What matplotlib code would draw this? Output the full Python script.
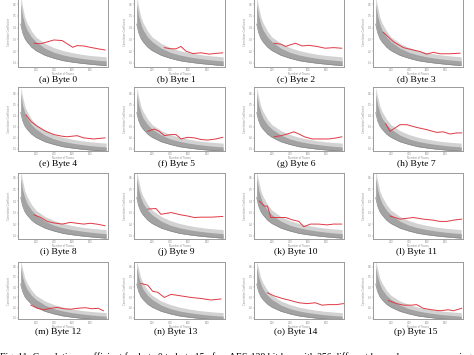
import matplotlib
matplotlib.use("Agg")
import matplotlib.pyplot as plt

# ---------------- data ----------------
captions = ["(a) Byte 0", "(b) Byte 1", "(c) Byte 2", "(d) Byte 3",
            "(e) Byte 4", "(f) Byte 5", "(g) Byte 6", "(h) Byte 7",
            "(i) Byte 8", "(j) Byte 9", "(k) Byte 10", "(l) Byte 11",
            "(m) Byte 12", "(n) Byte 13", "(o) Byte 14", "(p) Byte 15"]

x_ticks = [200, 400, 600, 800]
x_tick_labels = ["200", "400", "600", "800"]
y_ticks = [0.1, 0.2, 0.3, 0.4, 0.5, 0.6]
y_tick_labels = ["0.1", "0.2", "0.3", "0.4", "0.5", "0.6"]

# envelope of the 255 wrong-key (gray) curves
gray_x = [30, 50, 75, 100, 150, 200, 300, 400, 500, 600, 700, 800, 900, 980]
gray_lower = [0.43, 0.36, 0.31, 0.28, 0.235, 0.205, 0.165, 0.14, 0.12, 0.108, 0.098, 0.09, 0.083, 0.078]
gray_core_upper = [0.60, 0.50, 0.43, 0.38, 0.32, 0.28, 0.225, 0.19, 0.168, 0.152, 0.14, 0.13, 0.122, 0.117]
gray_upper = [0.66, 0.58, 0.49, 0.44, 0.37, 0.32, 0.265, 0.23, 0.205, 0.188, 0.174, 0.164, 0.157, 0.152]

# correct-key (red) curves
byte0_x = [179, 253, 308, 399, 491, 546, 608, 656, 729, 802, 875, 967]
byte0_y = [0.267, 0.263, 0.275, 0.295, 0.29, 0.263, 0.233, 0.247, 0.244, 0.233, 0.222, 0.21]
byte1_x = [333, 407, 462, 516, 571, 645, 736, 828, 883, 975]
byte1_y = [0.23, 0.22, 0.22, 0.24, 0.20, 0.18, 0.186, 0.175, 0.18, 0.186]
byte2_x = [223, 297, 352, 407, 462, 535, 608, 700, 791, 883, 975]
byte2_y = [0.267, 0.26, 0.24, 0.255, 0.267, 0.244, 0.25, 0.24, 0.225, 0.23, 0.225]
byte3_x = [115, 226, 337, 448, 522, 596, 670, 744, 855, 967]
byte3_y = [0.36, 0.28, 0.23, 0.21, 0.197, 0.175, 0.19, 0.178, 0.178, 0.183]
byte4_x = [88, 143, 216, 308, 399, 491, 546, 656, 729, 839, 967]
byte4_y = [0.41, 0.35, 0.305, 0.26, 0.23, 0.215, 0.21, 0.22, 0.20, 0.19, 0.20]
byte5_x = [150, 223, 278, 333, 407, 462, 516, 590, 663, 736, 810, 901, 975]
byte5_y = [0.26, 0.28, 0.26, 0.22, 0.23, 0.23, 0.19, 0.205, 0.20, 0.185, 0.18, 0.19, 0.205]
byte6_x = [223, 300, 370, 443, 500, 560, 645, 740, 830, 920, 975]
byte6_y = [0.21, 0.22, 0.235, 0.255, 0.235, 0.21, 0.19, 0.19, 0.19, 0.20, 0.21]
byte7_x = [140, 189, 300, 374, 485, 596, 707, 781, 855, 930, 985]
byte7_y = [0.33, 0.26, 0.32, 0.32, 0.295, 0.275, 0.25, 0.255, 0.235, 0.245, 0.245]
byte8_x = [179, 253, 326, 399, 491, 583, 656, 729, 802, 875, 967]
byte8_y = [0.28, 0.257, 0.223, 0.21, 0.20, 0.215, 0.207, 0.20, 0.207, 0.20, 0.186]
byte9_x = [150, 241, 296, 407, 516, 590, 663, 736, 846, 975]
byte9_y = [0.33, 0.335, 0.285, 0.30, 0.28, 0.27, 0.257, 0.26, 0.26, 0.266]
byte10_x = [58, 114, 150, 187, 260, 352, 425, 498, 553, 626, 718, 810, 883, 975]
byte10_y = [0.40, 0.356, 0.356, 0.257, 0.257, 0.257, 0.237, 0.223, 0.177, 0.20, 0.20, 0.193, 0.20, 0.20]
byte11_x = [189, 300, 448, 559, 670, 744, 819, 893, 985]
byte11_y = [0.27, 0.243, 0.257, 0.243, 0.234, 0.223, 0.223, 0.234, 0.243]
byte12_x = [143, 216, 289, 363, 436, 509, 583, 656, 747, 820, 894, 949]
byte12_y = [0.225, 0.194, 0.18, 0.194, 0.203, 0.19, 0.185, 0.194, 0.20, 0.19, 0.194, 0.17]
byte13_x = [76, 150, 205, 260, 333, 407, 516, 626, 736, 846, 956]
byte13_y = [0.436, 0.42, 0.36, 0.35, 0.30, 0.33, 0.315, 0.30, 0.29, 0.275, 0.285]
byte14_x = [150, 223, 315, 407, 498, 590, 681, 755, 828, 919, 993]
byte14_y = [0.345, 0.315, 0.29, 0.27, 0.248, 0.24, 0.248, 0.225, 0.23, 0.23, 0.24]
byte15_x = [170, 263, 337, 430, 485, 559, 652, 744, 837, 893, 985]
byte15_y = [0.27, 0.24, 0.225, 0.225, 0.23, 0.194, 0.18, 0.17, 0.18, 0.17, 0.194]

red_xs = [byte0_x, byte1_x, byte2_x, byte3_x, byte4_x, byte5_x, byte6_x, byte7_x,
          byte8_x, byte9_x, byte10_x, byte11_x, byte12_x, byte13_x, byte14_x, byte15_x]
red_ys = [byte0_y, byte1_y, byte2_y, byte3_y, byte4_y, byte5_y, byte6_y, byte7_y,
          byte8_y, byte9_y, byte10_y, byte11_y, byte12_y, byte13_y, byte14_y, byte15_y]

fig_caption = ("Fig. 11: Correlation coefficient for byte 0 to byte 15 of an AES-128 bit key "
               "with 256 different key values across varying")

# ---------------- layout ----------------
W, H = 474, 355
fig = plt.figure(figsize=(W / 100, H / 100), dpi=100)
fig.patch.set_facecolor("white")

col_px = [(18, 108), (134, 225), (254, 344), (373, 463)]
row_px = [(-2, 66.5), (87, 150.5), (173, 238.5), (262, 319)]
row_ylim = [(0.07, 0.651), (0.085, 0.663), (0.075, 0.643), (0.09, 0.645)]
cap_x = [58, 176, 296, 416]
cap_y = [80.5, 164.0, 252.0, 332.5]

serif = ["Liberation Serif", "DejaVu Serif"]
tick_grey = "#8a8a8a"

for i in range(16):
    r, c = divmod(i, 4)
    l, rr = col_px[c]
    t, b = row_px[r]
    ax = fig.add_axes([l / W, 1 - b / H, (rr - l) / W, (b - t) / H])
    ax.fill_between(gray_x, gray_lower, gray_upper, color="#d2d2d2", lw=0)
    ax.fill_between(gray_x, gray_lower, gray_core_upper, color="#a3a3a3", lw=0)
    ax.plot(gray_x, gray_lower, color="#8a8a8a", lw=0.5)
    ax.plot(red_xs[i], red_ys[i], color="#e03844", lw=0.7)
    ax.set_xlim(0, 1000)
    ax.set_ylim(*row_ylim[r])
    ax.set_xticks(x_ticks)
    ax.set_xticklabels(x_tick_labels)
    ax.set_yticks(y_ticks)
    ax.set_yticklabels(y_tick_labels)
    ax.tick_params(length=0.8, width=0.3, pad=0.4, labelsize=1.8, colors=tick_grey)
    ax.set_xlabel("Number of Traces", fontsize=1.8, color=tick_grey, labelpad=0.2)
    ax.set_ylabel("Correlation Coefficient", fontsize=1.8, color=tick_grey, labelpad=0.8)
    for s in ax.spines.values():
        s.set_color("#9a9a9a")
        s.set_linewidth(0.7)
    fig.text(cap_x[c] / W, 1 - cap_y[r] / H, captions[i], ha="center", va="center",
             fontsize=6.8, family=serif)

fig.text(0.0, 1 - 357 / H, fig_caption, ha="left", va="center", fontsize=7.05, family=serif)

fig.savefig("out.png", dpi=100)
